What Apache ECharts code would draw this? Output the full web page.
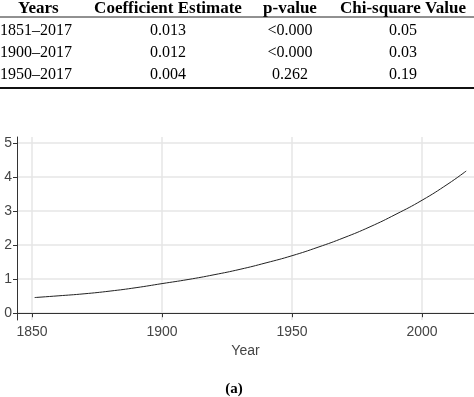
<!DOCTYPE html>
<html>
<head>
<meta charset="utf-8">
<script src="https://cdn.jsdelivr.net/npm/echarts@6/dist/echarts.min.js"></script>
<style>
  html, body { margin: 0; padding: 0; background: #fff; }
  #chart { width: 474px; height: 397px; }
</style>
</head>
<body>
<div id="chart"></div>
<script>
  // 表格内容
  const headers = ['Years', 'Coefficient Estimate', 'p-value', 'Chi-square Value'];
  const periods = ['1851\u20132017', '1900\u20132017', '1950\u20132017'];
  const coefs = ['0.013', '0.012', '0.004'];
  const pValues = ['<0.000', '<0.000', '0.262'];
  const chiValues = ['0.05', '0.03', '0.19'];

  // 曲线数据
  const years = [1851, 1860, 1870, 1880, 1890, 1900, 1910, 1920, 1930, 1940, 1950, 1960, 1970, 1980, 1990, 2000, 2010, 2017];
  const values = [0.46, 0.51, 0.57, 0.65, 0.75, 0.87, 0.99, 1.13, 1.29, 1.48, 1.69, 1.94, 2.22, 2.54, 2.91, 3.32, 3.80, 4.18];
  const xTicks = [1850, 1900, 1950, 2000];
  const yTicks = [0, 1, 2, 3, 4, 5];

  const chart = echarts.init(document.getElementById('chart'));

  const serif = '"Liberation Serif", serif';
  const colX = [0, 168, 290, 403]; // 列位置
  const rowY = [31, 53, 75];
  const graphics = [];
  headers.forEach((h, i) => {
    graphics.push({
      type: 'text', x: i === 0 ? 18 : colX[i], y: 9,
      style: { text: h, font: 'bold 17px ' + serif, fill: '#000', align: i === 0 ? 'left' : 'center', verticalAlign: 'middle' }
    });
  });
  const cols = [periods, coefs, pValues, chiValues];
  cols.forEach((col, i) => {
    col.forEach((t, r) => {
      graphics.push({
        type: 'text', x: colX[i], y: rowY[r],
        style: { text: t, font: '16px ' + serif, fill: '#000', align: i === 0 ? 'left' : 'center', verticalAlign: 'middle' }
      });
    });
  });
  // 表格横线
  graphics.push({ type: 'line', shape: { x1: 0, y1: 17, x2: 474, y2: 17 }, style: { stroke: '#222', lineWidth: 1 } });
  graphics.push({ type: 'line', shape: { x1: 0, y1: 88, x2: 474, y2: 88 }, style: { stroke: '#111', lineWidth: 2 } });
  // 图注
  graphics.push({
    type: 'text', x: 234, y: 389,
    style: { text: '(a)', font: 'bold 15px ' + serif, fill: '#000', align: 'center', verticalAlign: 'middle' }
  });

  const axisText = { color: '#444', fontSize: 14, fontFamily: '"Liberation Sans", Arial, sans-serif' };
  const splitStyle = { show: true, lineStyle: { color: '#e6e6e6', width: 1.5 } };

  chart.setOption({
    animation: false,
    backgroundColor: '#fff',
    grid: { left: 17, right: 0, top: 137, bottom: 77 },
    xAxis: {
      type: 'value',
      min: 1844.2,
      max: 2020,
      name: 'Year',
      nameLocation: 'middle',
      nameGap: 24,
      nameTextStyle: Object.assign({}, axisText, { fontSize: 14 }),
      axisLine: { show: true, lineStyle: { color: '#333', width: 1 } },
      axisTick: { show: true, customValues: xTicks, length: 4, lineStyle: { color: '#333' } },
      axisLabel: Object.assign({ customValues: xTicks, margin: 5, formatter: v => String(v) }, axisText),
      splitLine: splitStyle
    },
    yAxis: {
      type: 'value',
      min: -0.2,
      max: 5.18,
      axisLine: { show: true, lineStyle: { color: '#333', width: 1 } },
      axisTick: { show: true, customValues: yTicks, length: 4, lineStyle: { color: '#333' } },
      axisLabel: Object.assign({ customValues: yTicks, margin: 5, formatter: v => String(v) }, axisText),
      splitLine: splitStyle
    },
    series: [{
      type: 'line',
      data: years.map((y, i) => [y, values[i]]),
      showSymbol: false,
      smooth: true,
      lineStyle: { color: '#222', width: 1 }
    }],
    graphic: graphics
  });
</script>
</body>
</html>
